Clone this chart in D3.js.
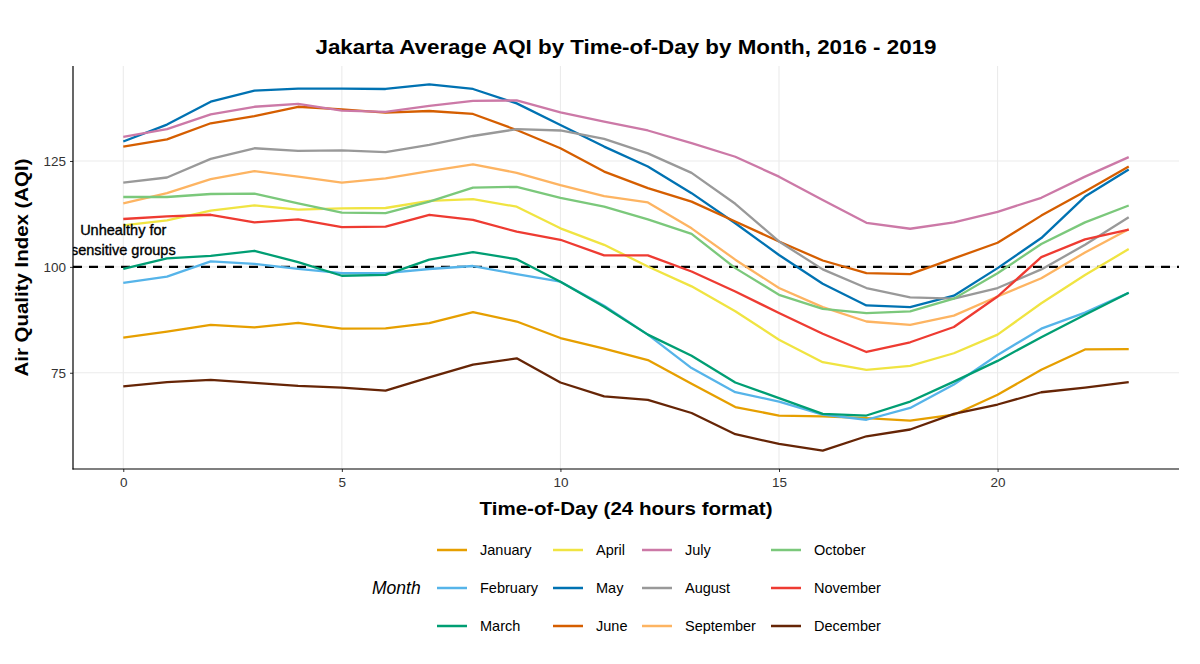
<!DOCTYPE html>
<html>
<head>
<meta charset="utf-8">
<script src="https://cdn.jsdelivr.net/npm/d3@7"></script>
<style>
  body { margin: 0; background: #fff; }
  svg { font-family: "Liberation Sans", Arial, sans-serif; }
</style>
</head>
<body>
<script>
// hours of the day on the x axis
const hours = d3.range(0, 24);
const months = ["January", "February", "March", "April", "May", "June",
  "July", "August", "September", "October", "November", "December"];
const monthColors = ["#E69F00", "#56B4E9", "#009E73", "#F0E442", "#0072B2", "#D55E00",
  "#CC79A7", "#999999", "#FDB462", "#7BC87B", "#EE3B32", "#662506"];
// average AQI per hour, one array per month
const january = [83.3, 84.7, 86.3, 85.7, 86.8, 85.4, 85.5, 86.7, 89.3, 87.1, 83.2, 80.7, 78.0, 72.4, 66.9, 64.9, 64.7, 64.3, 63.7, 65.1, 69.8, 75.7, 80.5, 80.6];
const february = [96.2, 97.7, 101.3, 100.7, 99.5, 98.5, 98.5, 99.5, 100.2, 98.3, 96.5, 90.8, 84.0, 76.1, 70.4, 68.2, 65.1, 63.9, 66.7, 72.2, 79.2, 85.4, 89.2, 93.9];
const march = [99.5, 102.0, 102.6, 103.8, 101.1, 97.9, 98.1, 101.7, 103.5, 101.8, 96.5, 90.6, 84.0, 79.0, 72.7, 69.0, 65.3, 64.9, 68.2, 72.9, 77.8, 83.4, 88.7, 93.9];
const april = [109.8, 111.0, 113.3, 114.5, 113.5, 113.8, 113.9, 115.6, 116.0, 114.2, 109.1, 105.2, 100.1, 95.4, 89.5, 82.8, 77.5, 75.7, 76.6, 79.6, 84.0, 91.4, 98.1, 104.2];
const may = [129.6, 133.6, 139.0, 141.6, 142.1, 142.1, 142.0, 143.1, 142.0, 138.6, 133.5, 128.4, 123.7, 117.4, 110.3, 102.8, 96.0, 90.9, 90.5, 93.2, 99.7, 106.8, 116.6, 123.0];
const june = [128.4, 130.1, 133.9, 135.6, 137.8, 137.2, 136.4, 136.8, 136.1, 132.3, 128.0, 122.5, 118.6, 115.4, 110.7, 106.0, 101.5, 98.5, 98.3, 102.0, 105.7, 112.1, 117.8, 123.7];
const july = [130.7, 132.5, 136.0, 137.8, 138.5, 136.9, 136.6, 138.0, 139.2, 139.3, 136.5, 134.3, 132.2, 129.2, 126.0, 121.3, 115.8, 110.4, 109.0, 110.5, 113.0, 116.3, 121.3, 125.9];
const august = [119.9, 121.1, 125.5, 128.0, 127.4, 127.5, 127.1, 128.8, 130.9, 132.5, 132.2, 130.2, 126.8, 122.2, 114.9, 106.0, 99.4, 95.0, 92.8, 92.5, 95.0, 99.4, 105.2, 111.7];
const september = [115.0, 117.4, 120.7, 122.6, 121.3, 119.9, 120.9, 122.6, 124.2, 122.2, 119.3, 116.7, 115.2, 109.1, 101.7, 95.0, 90.5, 87.1, 86.3, 88.5, 93.0, 97.3, 103.4, 108.9];
const october = [116.5, 116.5, 117.2, 117.3, 115.0, 112.8, 112.7, 115.4, 118.7, 118.9, 116.3, 114.2, 111.2, 107.8, 99.7, 93.4, 90.1, 89.1, 89.5, 92.5, 98.5, 105.4, 110.5, 114.5];
const november = [111.3, 111.9, 112.3, 110.5, 111.2, 109.4, 109.5, 112.3, 111.1, 108.3, 106.4, 102.7, 102.7, 98.9, 94.2, 89.1, 84.2, 79.9, 82.2, 85.8, 93.0, 102.3, 106.5, 108.8];
const december = [71.8, 72.8, 73.3, 72.6, 71.9, 71.5, 70.8, 73.9, 76.9, 78.4, 72.7, 69.4, 68.6, 65.5, 60.5, 58.2, 56.6, 60.0, 61.6, 65.3, 67.5, 70.4, 71.5, 72.8];
const seriesValues = [january, february, march, april, may, june, july, august, september, october, november, december];
const xTicks = [0, 5, 10, 15, 20];
const yTicks = [75, 100, 125];
const threshold = 100;

const width = 1200, height = 664;
const panel = { left: 73, right: 1179, top: 66, bottom: 469 };

const svg = d3.select("body").append("svg")
  .attr("width", width)
  .attr("height", height);

// ggplot-style 5% expansion of the data range
const xExt = d3.extent(hours);
const xPad = (xExt[1] - xExt[0]) * 0.05;
const xScale = d3.scaleLinear()
  .domain([xExt[0] - xPad, xExt[1] + xPad])
  .range([panel.left, panel.right]);

const allVals = [].concat(...seriesValues);
const yExt = d3.extent(allVals);
const yPad = (yExt[1] - yExt[0]) * 0.05;
const yScale = d3.scaleLinear()
  .domain([yExt[0] - yPad, yExt[1] + yPad])
  .range([panel.bottom, panel.top]);

// clip for things drawn inside the panel
svg.append("clipPath")
  .attr("id", "panel-clip")
  .append("rect")
  .attr("x", panel.left).attr("y", panel.top)
  .attr("width", panel.right - panel.left)
  .attr("height", panel.bottom - panel.top);

// grid lines
svg.append("g")
  .selectAll("line")
  .data(xTicks)
  .join("line")
  .attr("x1", d => xScale(d)).attr("x2", d => xScale(d))
  .attr("y1", panel.top).attr("y2", panel.bottom)
  .style("stroke", "#ebebeb").style("stroke-width", 1.1);
svg.append("g")
  .selectAll("line")
  .data(yTicks)
  .join("line")
  .attr("x1", panel.left).attr("x2", panel.right)
  .attr("y1", d => yScale(d)).attr("y2", d => yScale(d))
  .style("stroke", "#ebebeb").style("stroke-width", 1.1);

// threshold line
svg.append("line")
  .attr("x1", panel.left).attr("x2", panel.right)
  .attr("y1", yScale(threshold)).attr("y2", yScale(threshold))
  .style("stroke", "#000")
  .style("stroke-width", 2.2)
  .attr("stroke-dasharray", "9,7");

// month lines
const valueLine = d3.line()
  .x((d, i) => xScale(hours[i]))
  .y(d => yScale(d));

seriesValues.forEach(function (vals, i) {
  svg.append("path")
    .datum(vals)
    .attr("d", valueLine)
    .style("fill", "none")
    .style("stroke", monthColors[i])
    .style("stroke-width", 2.3)
    .style("stroke-linejoin", "round");
});

// annotation (clipped by the panel like in the original)
const note = svg.append("text")
  .attr("clip-path", "url(#panel-clip)")
  .attr("x", xScale(0))
  .attr("y", yScale(threshold) - 32)
  .attr("text-anchor", "middle")
  .style("font-size", "14.5px")
  .style("fill", "#000")
  .style("stroke", "#000")
  .style("stroke-width", 0.35);
note.append("tspan").attr("x", xScale(0)).text("Unhealthy for");
note.append("tspan").attr("x", xScale(0)).attr("dy", 20).text("sensitive groups");

// axes
const xAxis = svg.append("g")
  .attr("transform", "translate(0," + panel.bottom + ")")
  .call(d3.axisBottom(xScale).tickValues(xTicks).tickSize(3).tickPadding(5));
const yAxis = svg.append("g")
  .attr("transform", "translate(" + panel.left + ",0)")
  .call(d3.axisLeft(yScale).tickValues(yTicks).tickSize(3).tickPadding(4));
[xAxis, yAxis].forEach(function (ax) {
  ax.select(".domain").attr("d", null);
  ax.selectAll(".tick line").style("stroke", "#333");
  ax.selectAll("text")
    .style("font-size", "13.5px")
    .style("fill", "#333")
    .style("font-family", "Liberation Sans, Arial, sans-serif");
});
svg.append("line")
  .attr("x1", panel.left).attr("x2", panel.left)
  .attr("y1", panel.top).attr("y2", panel.bottom + 0.5)
  .style("stroke", "#000").style("stroke-width", 1.2);
svg.append("line")
  .attr("x1", panel.left - 0.5).attr("x2", panel.right)
  .attr("y1", panel.bottom).attr("y2", panel.bottom)
  .style("stroke", "#000").style("stroke-width", 1.2);

// titles
svg.append("text")
  .attr("x", (panel.left + panel.right) / 2)
  .attr("y", 54)
  .attr("text-anchor", "middle")
  .attr("textLength", 621)
  .attr("lengthAdjust", "spacingAndGlyphs")
  .style("font-size", "20px")
  .style("font-weight", "bold")
  .text("Jakarta Average AQI by Time-of-Day by Month, 2016 - 2019");
svg.append("text")
  .attr("x", (panel.left + panel.right) / 2)
  .attr("y", 515)
  .attr("text-anchor", "middle")
  .attr("textLength", 293)
  .attr("lengthAdjust", "spacingAndGlyphs")
  .style("font-size", "17.5px")
  .style("font-weight", "bold")
  .text("Time-of-Day (24 hours format)");
svg.append("text")
  .attr("transform", "translate(28," + ((panel.top + panel.bottom) / 2) + ") rotate(-90)")
  .attr("text-anchor", "middle")
  .attr("textLength", 218)
  .attr("lengthAdjust", "spacingAndGlyphs")
  .style("font-size", "17.5px")
  .style("font-weight", "bold")
  .text("Air Quality Index (AQI)");

// legend
svg.append("text")
  .attr("x", 372)
  .attr("y", 594)
  .style("font-size", "17.5px")
  .style("font-style", "italic")
  .text("Month");
const colKeyX = [437, 553, 642, 771];
const colLabelX = [480, 596, 685, 814];
const rowY = [550, 588, 626];
months.forEach(function (m, i) {
  const col = Math.floor(i / 3), row = i % 3;
  svg.append("line")
    .attr("x1", colKeyX[col]).attr("x2", colKeyX[col] + 30)
    .attr("y1", rowY[row]).attr("y2", rowY[row])
    .style("stroke", monthColors[i])
    .style("stroke-width", 2.5);
  svg.append("text")
    .attr("x", colLabelX[col])
    .attr("y", rowY[row] + 5)
    .style("font-size", "14.5px")
    .style("fill", "#000")
    .text(m);
});
</script>
</body>
</html>
